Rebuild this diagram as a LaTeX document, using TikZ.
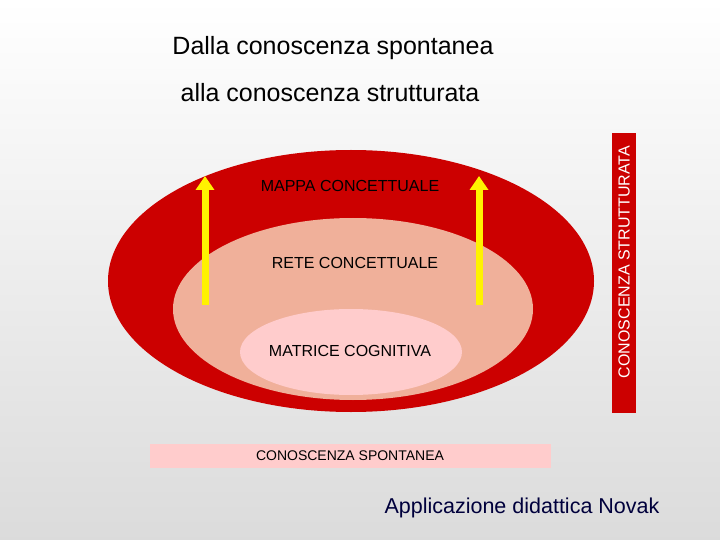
\documentclass[tikz,border=0pt]{standalone}
\usepackage{fontspec}
\setmainfont{Liberation Sans}
\usetikzlibrary{arrows.meta}
\definecolor{dred}{HTML}{CC0000}
\definecolor{salmon}{HTML}{F0B09A}
\definecolor{lpink}{HTML}{FFCCCC}
\begin{document}
\begin{tikzpicture}[x=1pt,y=-1pt,
  lbl/.style={font=\fontsize{16}{19}\selectfont},
  yarrow/.style={draw=yellow,line width=7pt,-{Triangle[width=18pt,length=14pt]}}]
\shade[top color=white,bottom color=black!14] (0,0) rectangle (720,540);
\useasboundingbox (0,0) rectangle (720,540);
\node[font=\fontsize{25}{30}\selectfont] (t1) at (333,48) {Dalla conoscenza spontanea};
\node[font=\fontsize{25}{30}\selectfont] (t2) at (330,93) {alla conoscenza strutturata};
\fill[dred] (351,281) ellipse [x radius=243,y radius=131];
\fill[salmon] (353,309) ellipse [x radius=180,y radius=91];
\fill[lpink] (351,352) ellipse [x radius=111,y radius=43];
\node[lbl] (m) at (350,186) {MAPPA CONCETTUALE};
\node[lbl] (r) at (355,263) {RETE CONCETTUALE};
\node[lbl] (c) at (350,351) {MATRICE COGNITIVA};
\coordinate (a1s) at (205,305); \coordinate (a1e) at (205,176);
\coordinate (a2s) at (479,305); \coordinate (a2e) at (479,176);
\draw[yarrow] (a1s) -- (a1e);
\draw[yarrow] (a2s) -- (a2e);
\fill[dred] (612,133) rectangle (636,413);
\node[text=white,rotate=90,font=\fontsize{16}{19}\selectfont] (cs) at (624,262) {CONOSCENZA STRUTTURATA};
\fill[lpink] (150,444) rectangle (551,468);
\node[font=\fontsize{14}{17}\selectfont] (sp) at (350,456) {CONOSCENZA SPONTANEA};
\node[font=\fontsize{21.5}{26}\selectfont,text={rgb,255:red,0;green,0;blue,60}] (n) at (522,508) {Applicazione didattica Novak};
\end{tikzpicture}
\end{document}
